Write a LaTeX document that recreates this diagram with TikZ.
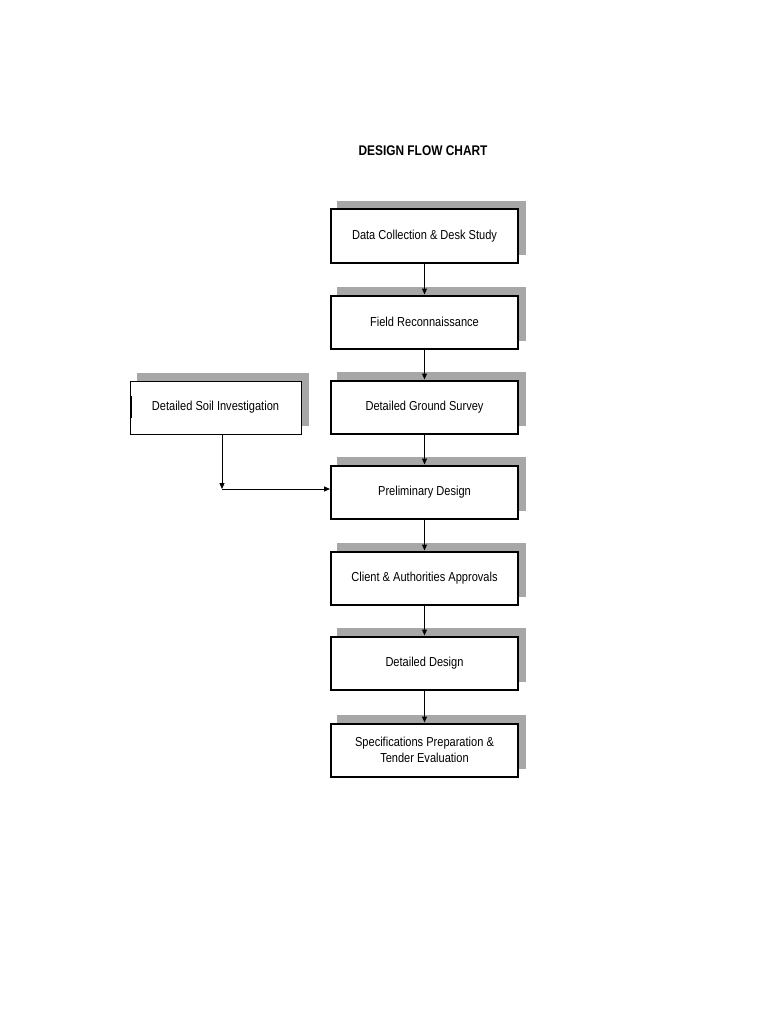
\documentclass[tikz,border=0pt]{standalone}
\usepackage{fontspec}
\setmainfont{Liberation Sans}[FakeStretch=0.85]
\usetikzlibrary{arrows.meta}
\begin{document}
\begin{tikzpicture}[x=1pt,y=-1pt,
  box/.style={draw,line width=2pt,fill=white,minimum width=187pt,minimum height=53pt,inner sep=0pt,align=center,font=\fontsize{13}{16}\selectfont},
  shade/.style={fill=gray!85!black!60},
  arr/.style={-{Triangle[length=6pt,width=5pt]},line width=1pt}]
\useasboundingbox (0,0) rectangle (768,1024);
\node[font=\bfseries\fontsize{14}{16}\selectfont] (title) at (423,151) {DESIGN FLOW CHART};
\foreach \n/\y/\t in {b1/236/Data Collection \& Desk Study, b2/322/Field Reconnaissance, b3/407/Detailed Ground Survey, b4/492/Preliminary Design, b5/578/Client \& Authorities Approvals, b6/663/Detailed Design, b7/750/{Specifications Preparation \&\\Tender Evaluation}}{
  \fill[shade] (337,\y-35) rectangle (526,\y+19);
  \node[box] (\n) at (424.5,\y) {\t};
}
\fill[shade] (137,373) rectangle (309,426);
\node[box,line width=1pt,minimum width=171pt] (side) at (215.5,407.5) {Detailed Soil Investigation};
\draw[line width=2pt] (131,396) -- (131,418);
\foreach \a/\b in {b1/b2,b2/b3,b3/b4,b4/b5,b5/b6,b6/b7}
  \draw[arr] (\a.south) -- (\b.north);
\coordinate (c) at (222,489);
\draw[arr] (side.south -| c) -- (c);
\draw[arr] (c) -- (c -| b4.west);
\end{tikzpicture}
\end{document}
